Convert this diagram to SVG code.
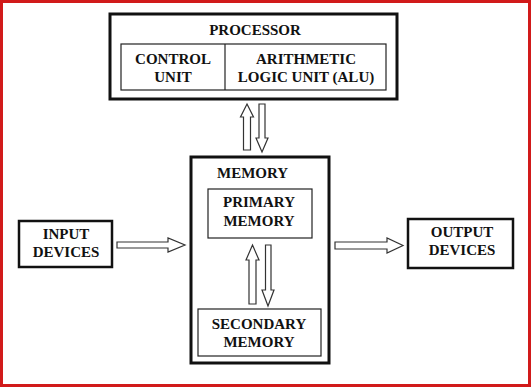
<svg xmlns="http://www.w3.org/2000/svg" width="531" height="387" viewBox="0 0 531 387">
<style>
text{font-family:"Liberation Serif","Times New Roman",serif;font-weight:bold;font-size:15px;fill:#111;text-anchor:middle}
.thick{fill:#fff;stroke:#111;stroke-width:3}
.thin{fill:#fff;stroke:#222;stroke-width:1.2}
.arr{fill:#fff;stroke:#333;stroke-width:1.2;stroke-linejoin:miter}
</style>
<rect x="0" y="0" width="531" height="387" fill="#fff"/>
<rect x="1.5" y="1.5" width="528" height="384" fill="none" stroke="#d11a1a" stroke-width="3"/>
<g id="processor">
<rect class="thick" x="110" y="14" width="287" height="85"/>
<text x="255" y="35">PROCESSOR</text>
<rect class="thin" x="121" y="44" width="265" height="46"/>
<line x1="225" y1="44" x2="225" y2="90" stroke="#222" stroke-width="1.2"/>
<g id="control-unit"><text x="173" y="64">CONTROL</text><text x="173" y="82">UNIT</text></g>
<g id="alu"><text x="306" y="64">ARITHMETIC</text><text x="306" y="82">LOGIC UNIT (ALU)</text></g>
</g>
<g id="memory">
<rect class="thick" x="191" y="157" width="138" height="206"/>
<text x="217" y="178" style="text-anchor:start">MEMORY</text>
<g id="primary-memory">
<rect class="thin" x="208" y="189" width="104" height="49"/>
<text x="259" y="207">PRIMARY</text><text x="259" y="226">MEMORY</text>
</g>
<g id="secondary-memory">
<rect class="thin" x="198" y="309" width="123" height="47"/>
<text x="259" y="329">SECONDARY</text><text x="259" y="347">MEMORY</text>
</g>
</g>
<g id="input-devices">
<rect x="19" y="221" width="93" height="46" fill="#fff" stroke="#111" stroke-width="2.5"/>
<text x="66" y="239">INPUT</text><text x="66" y="257">DEVICES</text>
</g>
<g id="output-devices">
<rect x="408" y="219" width="105" height="49" fill="#fff" stroke="#111" stroke-width="2.5"/>
<text x="462" y="237">OUTPUT</text><text x="462" y="255">DEVICES</text>
</g>
<g id="connectors">
<polygon class="arr" points="247,104 253.5,117 250.5,117 250.5,150 243.5,150 243.5,117 240.5,117"/>
<polygon class="arr" points="259,104 265,104 265,138 268,138 262,152 256,138 259,138"/>
<polygon class="arr" points="252.5,245 259,260 256,260 256,304 249,304 249,260 246,260"/>
<polygon class="arr" points="265.5,245 271,245 271,290 274,290 268,306 262,290 265.5,290"/>
<polygon class="arr" points="117,242 168,242 168,238 185,245 168,252 168,248 117,248"/>
<polygon class="arr" points="335,242 387,242 387,238 403,245.5 387,253 387,249 335,249"/>
</g>
</svg>
